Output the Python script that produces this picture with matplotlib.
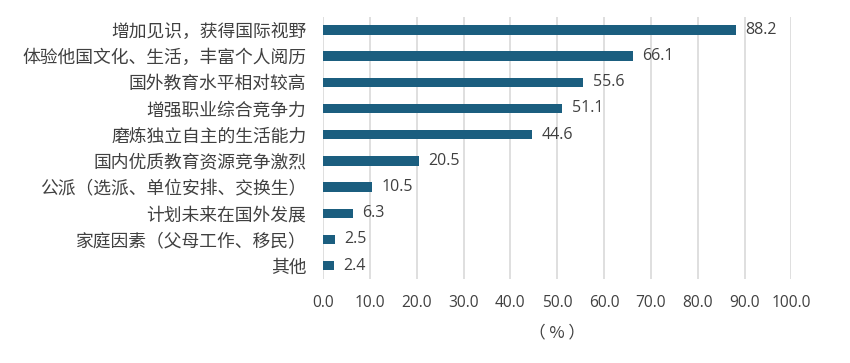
import matplotlib.pyplot as plt

plt.rcParams['font.family'] = ['Noto Sans CJK SC', 'DejaVu Sans']

# Dados do gráfico (de cima para baixo)
categories = ['增加见识，获得国际视野', '体验他国文化、生活，丰富个人阅历', '国外教育水平相对较高',
              '增强职业综合竞争力', '磨炼独立自主的生活能力', '国内优质教育资源竞争激烈',
              '公派（选派、单位安排、交换生）', '计划未来在国外发展', '家庭因素（父母工作、移民）', '其他']
values = [88.2, 66.1, 55.6, 51.1, 44.6, 20.5, 10.5, 6.3, 2.5, 2.4]
xticks = [0, 10, 20, 30, 40, 50, 60, 70, 80, 90, 100]

bar_color = '#1B5E7F'
text_color = '#404040'

fig = plt.figure(figsize=(8.5, 3.63), dpi=100)
ax = fig.add_axes([0.380, 0.232, 0.551, 0.722])

y = list(range(len(categories)))
ax.barh(y, values, height=0.36, color=bar_color, zorder=3)
ax.set_ylim(len(categories) - 0.5, -0.5)
ax.set_xlim(0, 100)

# Rótulos de valor
for yi, v in zip(y, values):
    ax.text(v + 2.0, yi, f'{v:.1f}', va='center', ha='left', fontsize=11.5,
            color=text_color, family=['Open Sans', 'DejaVu Sans'])

ax.set_yticks(y)
ax.set_yticklabels(categories, fontsize=12.8, color=text_color)
ax.set_xticks(xticks)
ax.set_xticklabels([f'{t:.1f}' for t in xticks], fontsize=11.2, color=text_color,
                   family=['Open Sans', 'DejaVu Sans'])
ax.tick_params(axis='both', length=0)
ax.tick_params(axis='x', pad=12)
ax.tick_params(axis='y', pad=12)

ax.grid(axis='x', color='#D9D9D9', linewidth=1.2, zorder=0)
for s in ax.spines.values():
    s.set_visible(False)

ax.set_xlabel('（ % ）', fontsize=12, color=text_color, labelpad=9)

plt.savefig('out.png', dpi=100)
